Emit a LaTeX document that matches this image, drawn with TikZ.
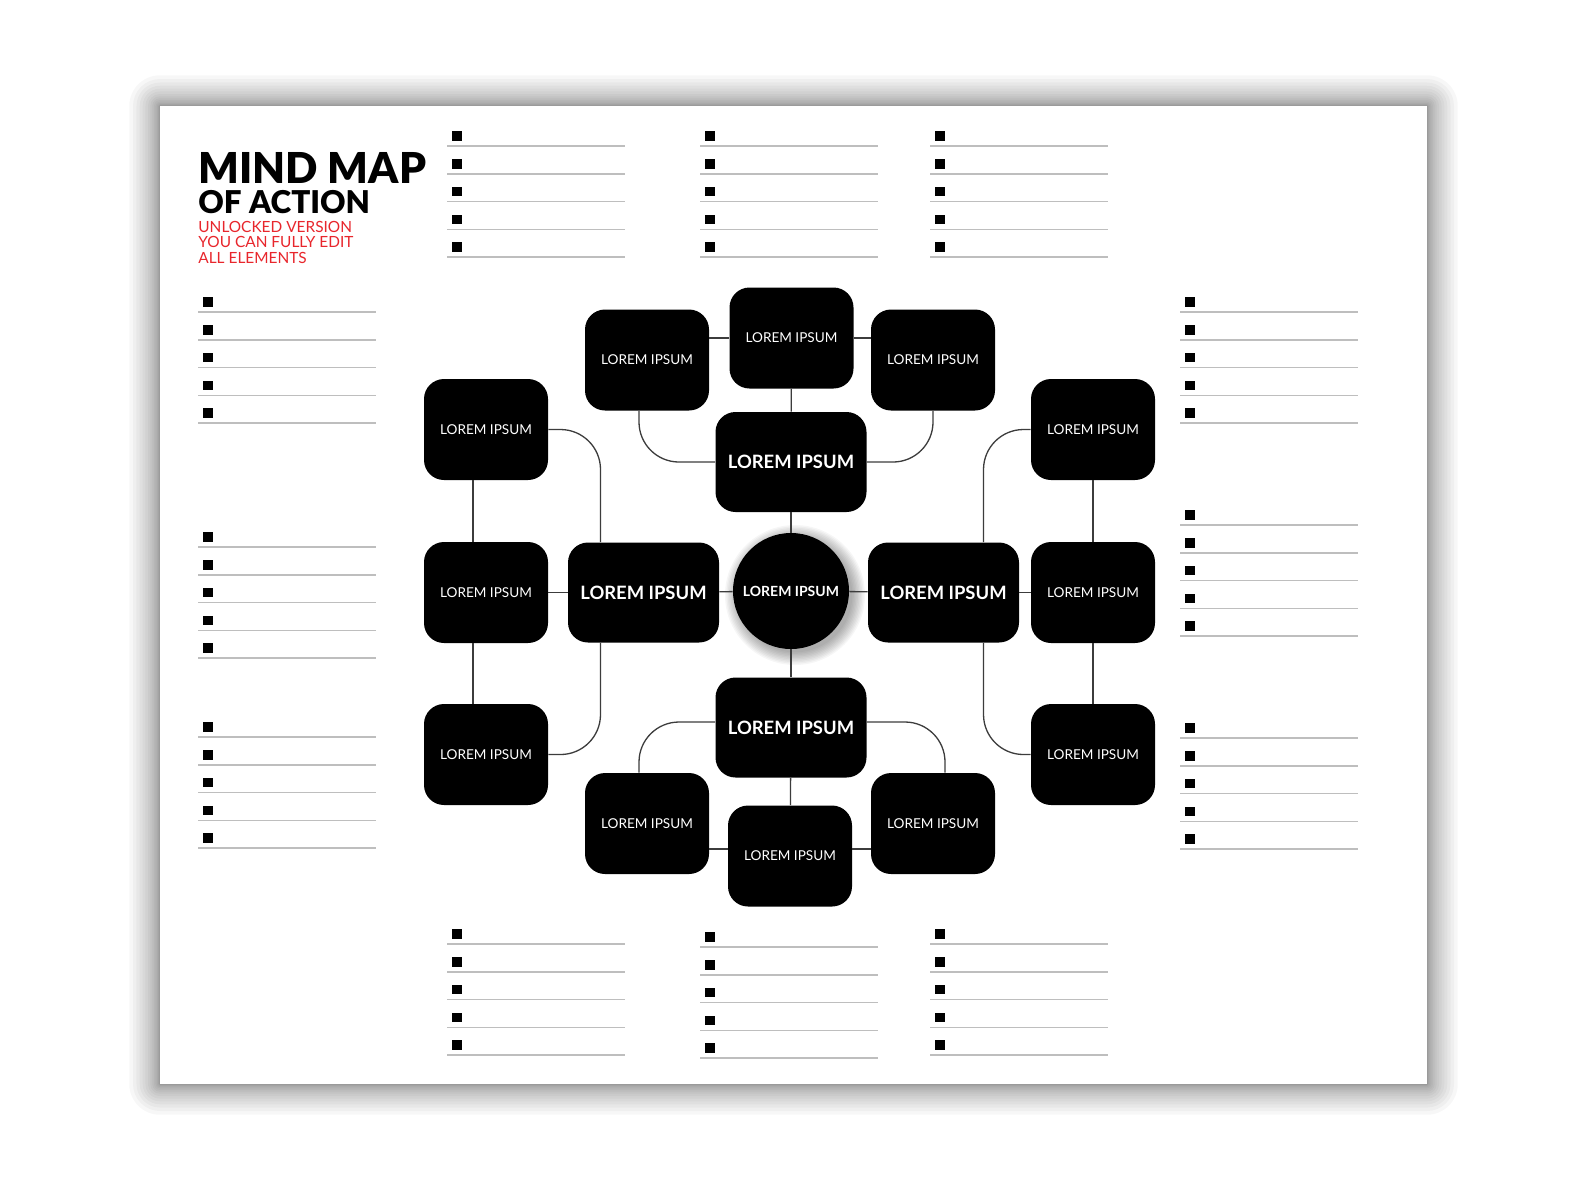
\documentclass[tikz,border=0pt]{standalone}
\usepackage{fontspec}
\setmainfont{Lato}
\newfontfamily\heavyfont{Lato Black}
\usepackage{xcolor}
\usepackage{tikz}
\usetikzlibrary{
  calc,%
  positioning,%
  shapes.geometric
}
\definecolor{mapred}{HTML}{E8262C}
\definecolor{linkgray}{HTML}{3C3C3C}
\definecolor{rulegray}{HTML}{BEBEBE}
\tikzset{
  idea/.style={fill=black, rounded corners=10pt, text=white, align=center, inner sep=0pt},
  smallidea/.style={idea, minimum width=62pt, minimum height=50.5pt,
    font=\fontsize{6.8}{8}\selectfont},
  bigidea/.style={idea, minimum width=75.5pt, minimum height=50pt,
    font=\bfseries\fontsize{9.2}{11}\selectfont},
  hub/.style={circle, fill=black, text=white, minimum size=58pt, inner sep=0pt,
    font=\bfseries\fontsize{7}{8}\selectfont},
  link/.style={draw=linkgray, line width=0.65pt, rounded corners=20pt},
  titletext/.style={anchor=base west, inner sep=0pt},
}
% five bullets with rules: #1 = start of the rules, #2 = first bullet
\newcommand{\notelines}[2]{%
  \foreach \k in {0,...,4} {
    \fill (#1+5.25, #2+27.8*\k-4.75) rectangle ++(9.5,9.5);
    \draw[rulegray, line width=0.75pt] (#1, #2+27.8*\k+10) -- ++(178,0);
  }}

\begin{document}
\begin{tikzpicture}[x=0.5pt, y=-0.5pt]
  \useasboundingbox (0,0) rectangle (1588,1191);
  \fill[white] (0,0) rectangle (1588,1191);
  % sheet and its shadow
  \foreach \k in {1,...,16}
    \fill[black, opacity=0.03, rounded corners=0.06*\k*\k pt]
      (160-0.12*\k*\k, 106-0.12*\k*\k) rectangle (1427+0.12*\k*\k, 1084+0.12*\k*\k);
  \fill[white] (160,106) rectangle (1427,1084);

  \node[titletext, font=\heavyfont\fontsize{21.3}{24}\selectfont] (title) at (198,183) {MIND MAP};
  \node[titletext, font=\heavyfont\fontsize{15.7}{17}\selectfont] (subtitle) at (198,213) {OF ACTION};
  \foreach \txt [count=\i from 0] in {UNLOCKED VERSION, YOU CAN FULLY EDIT, ALL ELEMENTS}
    \node[titletext, text=mapred, font=\fontsize{7.7}{8}\selectfont] (note\i) at (198,232+15.5*\i) {\txt};

  % note lists
  \foreach \x in {447,700,930}
    \notelines{\x}{136};
  \foreach \y in {302,537,727}
    \notelines{198}{\y};
  \foreach \y in {302,515,728}
    \notelines{1180}{\y};
  \foreach \x/\y in {447/934,700/937,930/934}
    \notelines{\x}{\y};

  % hub shadow
  \foreach \k in {1,...,10}
    \fill[black, opacity=0.035] (795,595) circle (28pt+\k*0.7pt);

  \node[hub] (hub) at (791,591) {LOREM IPSUM};
  \node[bigidea] (TB) at (791,462) {LOREM IPSUM};
  \node[bigidea] (BB) at (791,727.5) {LOREM IPSUM};
  \node[bigidea] (LB) at (643.5,592.5) {LOREM IPSUM};
  \node[bigidea] (RB) at (943.5,592.5) {LOREM IPSUM};

  \node[smallidea] (T1) at (791.5,338) {LOREM IPSUM};
  \node[smallidea] (TL1) at (647,360) {LOREM IPSUM};
  \node[smallidea] (TR1) at (933,360) {LOREM IPSUM};
  \node[smallidea] (L1) at (486,429.5) {LOREM IPSUM};
  \node[smallidea] (L2) at (486,592.5) {LOREM IPSUM};
  \node[smallidea] (L3) at (486,754.5) {LOREM IPSUM};
  \node[smallidea] (R1) at (1093,429.5) {LOREM IPSUM};
  \node[smallidea] (R2) at (1093,592.5) {LOREM IPSUM};
  \node[smallidea] (R3) at (1093,754.5) {LOREM IPSUM};
  \node[smallidea] (BL1) at (647,823.5) {LOREM IPSUM};
  \node[smallidea] (B1) at (790,856) {LOREM IPSUM};
  \node[smallidea] (BR1) at (933,823.5) {LOREM IPSUM};

  % links around the hub
  \draw[link] (hub) -- (TB);
  \draw[link] (hub) -- (BB);
  \draw[link] (hub) -- (LB);
  \draw[link] (hub) -- (RB);

  % top branch
  \draw[link] (T1) -- (TB);
  \draw[link] (T1.west) -- (T1.west -| TL1.east);
  \draw[link] (T1.east) -- (T1.east -| TR1.west);
  \draw[link] ($(TL1.south)+(-8,0)$) |- (TB.west);
  \draw[link] (TR1.south) |- (TB.east);

  % left branch
  \draw[link] ($(L1.south)+(-13,0)$) -- ($(L2.north)+(-13,0)$);
  \draw[link] ($(L2.south)+(-13,0)$) -- ($(L3.north)+(-13,0)$);
  \draw[link] (L2) -- (LB);
  \draw[link] (L1.east) -| ($(LB.north)+(-43,0)$);
  \draw[link] (L3.east) -| ($(LB.south)+(-43,0)$);

  % right branch
  \draw[link] (R1) -- (R2);
  \draw[link] (R2) -- (R3);
  \draw[link] (RB) -- (R2);
  \draw[link] (R1.west) -| ($(RB.north)+(40,0)$);
  \draw[link] (R3.west) -| ($(RB.south)+(40,0)$);

  % bottom branch
  \draw[link] (BB) -- (B1);
  \draw[link] ($(B1.west)+(0,-7)$) -- ($(B1.west -| BL1.east)+(0,-7)$);
  \draw[link] ($(B1.east)+(0,-7)$) -- ($(B1.east -| BR1.west)+(0,-7)$);
  \draw[link] ($(BB.west)+(0,-5.5)$) -| ($(BL1.north)+(-8,0)$);
  \draw[link] ($(BB.east)+(0,-5.5)$) -| ($(BR1.north)+(12,0)$);
\end{tikzpicture}
\end{document}
